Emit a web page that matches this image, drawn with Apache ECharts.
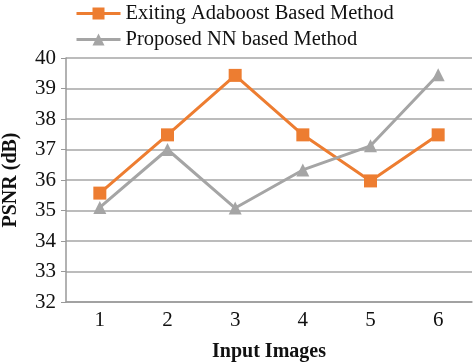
<!DOCTYPE html>
<html><head><meta charset="utf-8">
<script src="https://cdn.jsdelivr.net/npm/echarts@6/dist/echarts.min.js"></script>
<style>html,body{margin:0;padding:0;background:#fff}#c{width:474px;height:364px}</style>
</head><body><div id="c"></div>
<script>
const categories = ['1','2','3','4','5','6'];
const adaboost = [35.57, 37.48, 39.43, 37.48, 35.97, 37.48];
const proposed = [35.1, 37.0, 35.08, 36.33, 37.12, 39.45];
const seriesNames = ['Exiting Adaboost Based Method', 'Proposed NN based Method'];
const font = 'Liberation Serif';
const chart = echarts.init(document.getElementById('c'));
chart.setOption({
  animation: false,
  backgroundColor: '#fff',
  grid: {left: 66, right: 2, top: 58, bottom: 62, outerBoundsMode: 'none', containLabel: false},
  legend: {
    orient: 'vertical', left: 75, top: 3, itemGap: 5, padding: 0,
    itemWidth: 44, itemHeight: 15,
    lineStyle: {width: 3},
    textStyle: {fontFamily: font, fontSize: 20.5, color: '#111'},
    data: seriesNames
  },
  xAxis: {
    type: 'category', data: categories, boundaryGap: true,
    name: 'Input Images', nameLocation: 'middle', nameGap: 40,
    nameTextStyle: {fontFamily: font, fontSize: 20, fontWeight: 'bold', color: '#111'},
    axisLine: {lineStyle: {color: '#999', width: 1.5}},
    axisTick: {show: false},
    axisLabel: {fontFamily: font, fontSize: 21, color: '#111', margin: 8}
  },
  yAxis: {
    type: 'value', min: 32, max: 40, interval: 1,
    name: 'PSNR (dB)', nameLocation: 'middle', nameGap: 45,
    nameTextStyle: {fontFamily: font, fontSize: 20, fontWeight: 'bold', color: '#111'},
    axisLine: {show: true, lineStyle: {color: '#999', width: 1.5}},
    axisTick: {show: true, length: 5, lineStyle: {color: '#999'}},
    axisLabel: {fontFamily: font, fontSize: 21, color: '#111', margin: 10},
    splitLine: {lineStyle: {color: '#a6a6a6', width: 1.5}}
  },
  series: [
    {name: seriesNames[0], type: 'line', data: adaboost,
     symbol: 'rect', symbolSize: 13,
     lineStyle: {color: '#ED7D31', width: 3}, itemStyle: {color: '#ED7D31'}},
    {name: seriesNames[1], type: 'line', data: proposed,
     symbol: 'triangle', symbolSize: 13,
     lineStyle: {color: '#A5A5A5', width: 3}, itemStyle: {color: '#A5A5A5'}}
  ]
});
</script></body></html>
